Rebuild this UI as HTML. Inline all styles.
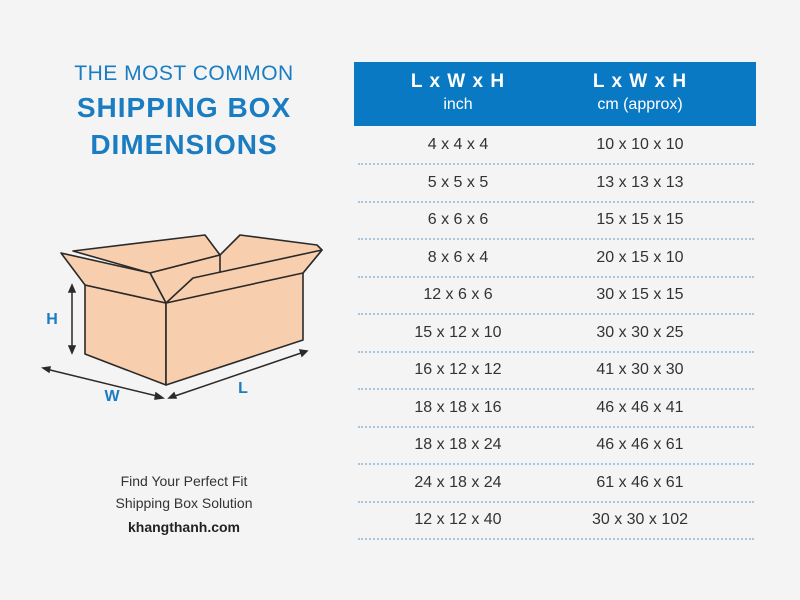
<!DOCTYPE html>
<html><head><meta charset="utf-8"><style>
body{margin:0;width:800px;height:600px;background:#f4f4f5;font-family:"Liberation Sans",sans-serif;position:relative;overflow:hidden}
.t{position:absolute;text-align:center;white-space:nowrap}
</style></head><body>
<div class="t" style="left:34px;width:300px;top:62px;font-size:21px;color:#1a7cc1;letter-spacing:0.5px">THE MOST COMMON</div>
<div class="t" style="left:34px;width:300px;top:92px;font-size:28px;font-weight:bold;color:#1a7cc1;letter-spacing:1px">SHIPPING BOX</div>
<div class="t" style="left:34px;width:300px;top:129px;font-size:28px;font-weight:bold;color:#1a7cc1;letter-spacing:1px">DIMENSIONS</div>
<svg width="800" height="600" style="position:absolute;left:0;top:0">
<g stroke="#2a2a2a" stroke-width="1.6" fill="#f8cfae" stroke-linejoin="round">
<polygon points="73,251 205,235 220,255 150,273"/>
<polygon points="240,235 317,245 322,250 303,273 193,278 220,255"/>
<polygon points="150,273 220,255 220,272 166,303"/>
<polygon points="85,285 166,303 166,385 85,354"/>
<polygon points="166,303 303,272 303,340 166,385"/>
<polygon points="61,253 150,273 166,303 85,285"/>
<polygon points="166,303 193,278 322,250 303,273"/>
</g>
<g stroke="#2a2a2a" stroke-width="1.5" fill="#2a2a2a">
<line x1="72" y1="288" x2="72" y2="350"/><polygon points="72,285 69,292 75,292"/><polygon points="72,353 69,346 75,346"/>
<line x1="46" y1="369" x2="161" y2="397"/><polygon points="43,368 50,367 49,372"/><polygon points="163,398 156,393 155,399"/>
<line x1="172" y1="397" x2="304" y2="352"/><polygon points="169,398 174,393 176,398"/><polygon points="307,351 300,350 302,356"/>
</g>
<g font-family="Liberation Sans,sans-serif" font-weight="bold" font-size="16" fill="#1a7cc1" text-anchor="middle">
<text x="52" y="324">H</text>
<text x="112" y="401">W</text>
<text x="243" y="393">L</text>
</g>
</svg>
<div class="t" style="left:34px;width:300px;top:473px;font-size:14px;color:#333">Find Your Perfect Fit</div>
<div class="t" style="left:34px;width:300px;top:495px;font-size:14px;color:#333">Shipping Box Solution</div>
<div class="t" style="left:34px;width:300px;top:519px;font-size:14px;font-weight:bold;color:#222">khangthanh.com</div>
<div style="position:absolute;left:354px;top:62px;width:402px;height:64px;background:#0a79c4;color:#fff">
<div class="t" style="left:54px;width:100px;top:9px;font-size:19px;font-weight:bold;letter-spacing:1px">L x W x H</div>
<div class="t" style="left:54px;width:100px;top:34px;font-size:16px">inch</div>
<div class="t" style="left:236px;width:100px;top:9px;font-size:19px;font-weight:bold;letter-spacing:1px">L x W x H</div>
<div class="t" style="left:236px;width:100px;top:34px;font-size:16px">cm (approx)</div>
</div>
<div id="rows"></div>
<script>
const inch=["4 x 4 x 4","5 x 5 x 5","6 x 6 x 6","8 x 6 x 4","12 x 6 x 6","15 x 12 x 10","16 x 12 x 12","18 x 18 x 16","18 x 18 x 24","24 x 18 x 24","12 x 12 x 40"];
const cm=["10 x 10 x 10","13 x 13 x 13","15 x 15 x 15","20 x 15 x 10","30 x 15 x 15","30 x 30 x 25","41 x 30 x 30","46 x 46 x 41","46 x 46 x 61","61 x 46 x 61","30 x 30 x 102"];
const box=document.getElementById('rows');
inch.forEach((v,i)=>{
 const y=126+i*37.5;
 const r=document.createElement('div');
 
 
 r.style.cssText=`position:absolute;left:358px;top:${y}px;width:396px;height:37px;border-bottom:2px dotted #a9c6df;font-size:16px;color:#333`;
 r.innerHTML=`<div class="t" style="left:0;width:200px;top:10px">${v}</div><div class="t" style="left:182px;width:200px;top:10px">${cm[i]}</div>`;
 box.appendChild(r);
});
</script>
</body></html>
